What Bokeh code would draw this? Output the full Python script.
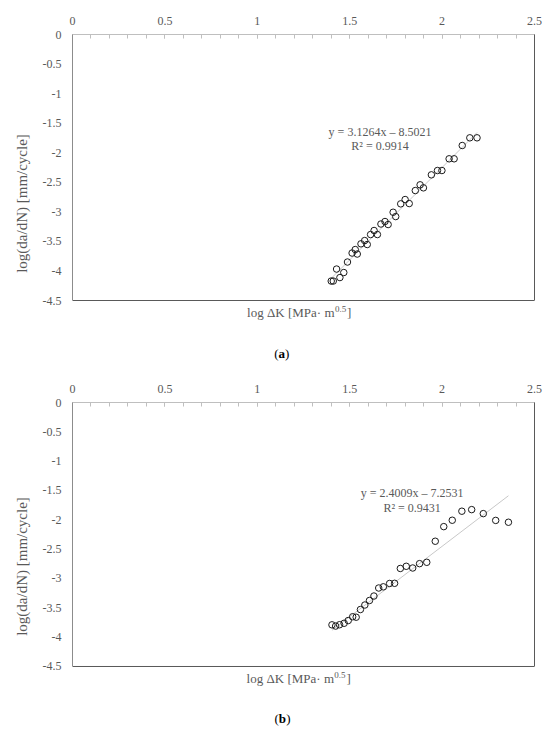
from bokeh.plotting import figure
from bokeh.models import Label, LinearAxis, FixedTicker, Span
from bokeh.layouts import column
from bokeh.embed import file_html
from bokeh.resources import INLINE

# ---------------- data ----------------
# panel (a)
a_logdk = [1.400, 1.411, 1.429, 1.447, 1.468, 1.488, 1.513, 1.530, 1.541, 1.561,
           1.581, 1.595, 1.613, 1.632, 1.650, 1.669, 1.691, 1.708, 1.735, 1.749,
           1.776, 1.800, 1.822, 1.855, 1.881, 1.899, 1.942, 1.975, 1.999, 2.038,
           2.065, 2.109, 2.150, 2.189]
a_logdadn = [-4.171, -4.171, -3.968, -4.112, -4.027, -3.849, -3.697, -3.638, -3.714, -3.541,
             -3.486, -3.553, -3.384, -3.316, -3.384, -3.206, -3.164, -3.215, -3.007, -3.080,
             -2.865, -2.792, -2.860, -2.640, -2.543, -2.594, -2.374, -2.301, -2.301, -2.103,
             -2.103, -1.878, -1.748, -1.748]
a_slope, a_intercept = 3.1264, -8.5021
a_eq = "y = 3.1264x – 8.5021"
a_r2 = "R² = 0.9914"

# panel (b)
b_logdk = [1.404, 1.424, 1.445, 1.470, 1.492, 1.516, 1.535, 1.558, 1.582, 1.607,
           1.631, 1.657, 1.682, 1.716, 1.743, 1.774, 1.806, 1.841, 1.878, 1.917,
           1.963, 2.009, 2.055, 2.107, 2.160, 2.223, 2.290, 2.359]
b_logdadn = [-3.790, -3.811, -3.788, -3.763, -3.717, -3.652, -3.660, -3.529, -3.452, -3.375,
             -3.299, -3.162, -3.142, -3.085, -3.082, -2.829, -2.792, -2.821, -2.747, -2.724,
             -2.365, -2.116, -2.007, -1.853, -1.826, -1.894, -2.010, -2.041]
b_slope, b_intercept = 2.4009, -7.2531
b_eq = "y = 2.4009x – 7.2531"
b_r2 = "R² = 0.9431"

x_ticks = [0, 0.5, 1, 1.5, 2, 2.5]
x_tick_labels = ["0", "0.5", "1", "1.5", "2", "2.5"]
y_ticks = [0, -0.5, -1, -1.5, -2, -2.5, -3, -3.5, -4, -4.5]
y_tick_labels = ["0", "-0.5", "-1", "-1.5", "-2", "-2.5", "-3", "-3.5", "-4", "-4.5"]
x_minor = [round(0.1 * i, 1) for i in range(26)]

x_title = "log ΔK [MPa· m"
x_title_sup = "0.5"
y_title = "log(da/dN) [mm/cycle]"

FONT = "Liberation Serif"
GREY = "#595959"
Y_MIN, Y_MAX = y_ticks[-1], y_ticks[0]


def add_text(p, x, y, text, size="12px", align="center", style="normal",
             color=GREY, baseline="middle"):
    p.add_layout(Label(x=x, y=y, text=text, text_font=FONT, text_font_size=size,
                       text_align=align, text_baseline=baseline,
                       text_font_style=style, text_color=color))


def make_panel(xs, ys, slope, intercept, eq, r2, letter, w, h, bl, br, bt,
               y_lo, eq_pos, r2_pos, title_pos, cap_pos):
    # the frame extends below the plot box so the x title and caption live inside it;
    # the plot box itself is bounded at Y_MIN by axis bounds and a span
    p = figure(width=w, height=h, x_range=(0, 2.5), y_range=(y_lo, Y_MAX),
               x_axis_location="above", output_backend="svg", toolbar_location=None,
               min_border_left=bl, min_border_right=br, min_border_top=bt,
               min_border_bottom=0)
    p.xgrid.visible = False
    p.ygrid.visible = False
    p.outline_line_color = None

    xa = p.xaxis[0]
    xa.ticker = FixedTicker(ticks=x_ticks, minor_ticks=x_minor)
    xa.major_label_overrides = {t: l for t, l in zip(x_ticks, x_tick_labels)}
    xa.major_tick_in = 4
    xa.major_tick_out = 0
    xa.minor_tick_in = 4
    xa.minor_tick_out = 0
    xa.major_tick_line_color = "#bfbfbf"
    xa.minor_tick_line_color = "#bfbfbf"
    xa.axis_line_color = "#bfbfbf"
    xa.major_label_text_font = FONT
    xa.major_label_text_font_size = "12px"
    xa.major_label_text_color = GREY
    xa.major_label_standoff = 10

    ya = p.yaxis[0]
    ya.bounds = (Y_MIN, Y_MAX)
    ya.ticker = FixedTicker(ticks=y_ticks)
    ya.major_label_overrides = {t: l for t, l in zip(y_ticks, y_tick_labels)}
    ya.major_tick_in = 0
    ya.major_tick_out = 0
    ya.minor_tick_in = 0
    ya.minor_tick_out = 0
    ya.axis_line_color = "#8c8c8c"
    ya.major_label_text_font = FONT
    ya.major_label_text_font_size = "12px"
    ya.major_label_text_color = GREY
    ya.major_label_standoff = 11
    ya.axis_label = y_title
    ya.axis_label_text_font = FONT
    ya.axis_label_text_font_size = "15px"
    ya.axis_label_text_font_style = "normal"
    ya.axis_label_text_color = GREY
    ya.axis_label_standoff = 10

    ra = LinearAxis(ticker=FixedTicker(ticks=[]), bounds=(Y_MIN, Y_MAX),
                    axis_line_color="#595959", major_tick_in=0, major_tick_out=0,
                    minor_tick_in=0, minor_tick_out=0, major_label_standoff=0,
                    major_label_text_font_size="0px")
    p.add_layout(ra, "right")
    p.add_layout(Span(location=Y_MIN, dimension="width", line_color="#595959",
                      line_width=1))

    # trendline from the fitted equation over the data range
    x0, x1 = min(xs), max(xs)
    p.line([x0, x1], [slope * x0 + intercept, slope * x1 + intercept],
           line_color="#c8c8c8", line_width=1)
    p.scatter(xs, ys, marker="circle", size=6.5, fill_color=None,
              line_color="#1a1a1a", line_width=1)

    add_text(p, eq_pos[0], eq_pos[1], eq, size="12px")
    add_text(p, r2_pos[0], r2_pos[1], r2, size="12px")

    tx, ty, sx, sy, bx = title_pos
    add_text(p, tx, ty, x_title, size="13px", align="right")
    add_text(p, sx, sy, x_title_sup, size="9px", align="left")
    add_text(p, bx, ty, "]", size="13px", align="left")
    cl, cc, cr, cy = cap_pos
    add_text(p, cl, cy, "(", size="13px", align="right", color="black")
    add_text(p, cc, cy, letter, size="13px", style="bold", color="black")
    add_text(p, cr, cy, ")", size="13px", align="left", color="black")
    return p


pa = make_panel(a_logdk, a_logdadn, a_slope, a_intercept, a_eq, a_r2, "a",
                550, 372, 68, 14, 34, -5.718,
                (1.664, -1.650), (1.664, -1.890),
                (1.418, -4.698, 1.420, -4.636, 1.485),
                (1.115, 1.132, 1.150, -5.402))
pb = make_panel(b_logdk, b_logdadn, b_slope, b_intercept, b_eq, b_r2, "b",
                550, 358, 72, 16, 30, -5.591,
                (1.838, -1.536), (1.838, -1.792),
                (1.415, -4.704, 1.417, -4.645, 1.483),
                (1.116, 1.136, 1.156, -5.386))

layout = column(pa, pb, spacing=0)
open("out.html", "w").write(file_html(layout, INLINE))
